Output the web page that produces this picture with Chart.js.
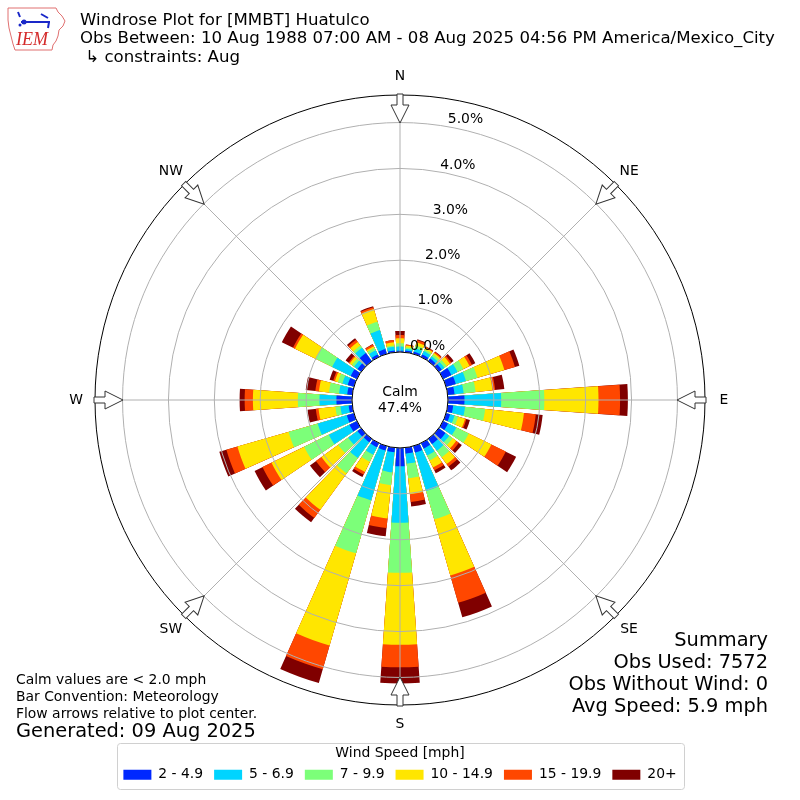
<!DOCTYPE html>
<html>
<head>
<meta charset="utf-8">
<title>Windrose MMBT Huatulco</title>
<script src="https://cdn.jsdelivr.net/npm/chart.js@4.4.1/dist/chart.umd.min.js"></script>
<style>
  html, body { margin: 0; padding: 0; background: #fff; }
</style>
</head>
<body>
<canvas id="rose" width="800" height="800"></canvas>
<script>
// wind directions (degrees, meteorological) and compass labels
const directions = [0, 10, 20, 30, 40, 50, 60, 70, 80, 90, 100, 110, 120, 130, 140, 150, 160, 170,
                    180, 190, 200, 210, 220, 230, 240, 250, 260, 270, 280, 290, 300, 310, 320, 330, 340, 350];
const compassLabels = ['N', 'NE', 'E', 'SE', 'S', 'SW', 'W', 'NW'];

const speedBins = ['2 - 4.9', '5 - 6.9', '7 - 9.9', '10 - 14.9', '15 - 19.9', '20+'];
const speedColors = ['#0028ff', '#00d4ff', '#7cff79', '#ffe600', '#ff4700', '#800000'];

// percent of observations, per direction, per speed bin
const speed2to5 = [0.03, 0.04, 0.05, 0.06, 0.07, 0.08, 0.20, 0.22, 0.15, 0.36, 0.12, 0.09, 0.12, 0.18, 0.14, 0.13, 0.15, 0.13,
                   0.40, 0.10, 0.10, 0.10, 0.09, 0.10, 0.18, 0.16, 0.08, 0.34, 0.11, 0.14, 0.15, 0.10, 0.22, 0.06, 0.11, 0.04];
const speed5to7 = [0.09, 0.04, 0.08, 0.08, 0.06, 0.07, 0.15, 0.23, 0.20, 0.80, 0.26, 0.10, 0.20, 0.10, 0.18, 0.17, 0.87, 0.22,
                   1.23, 0.44, 1.13, 0.18, 0.43, 0.25, 0.50, 0.66, 0.18, 0.37, 0.18, 0.12, 0.45, 0.09, 0.14, 0.10, 0.43, 0.08];
const speed7to10 = [0.07, 0.03, 0.06, 0.04, 0.05, 0.06, 0.14, 0.26, 0.26, 0.94, 0.44, 0.08, 0.30, 0.09, 0.18, 0.12, 0.64, 0.32,
                    1.09, 0.28, 1.20, 0.17, 0.41, 0.27, 0.60, 0.66, 0.11, 0.47, 0.22, 0.10, 0.40, 0.06, 0.06, 0.06, 0.19, 0.03];
const speed10to15 = [0.11, 0.04, 0.07, 0.04, 0.04, 0.09, 0.15, 0.61, 0.37, 1.18, 0.85, 0.16, 0.55, 0.10, 0.18, 0.17, 1.27, 0.35,
                     1.57, 0.73, 2.09, 0.25, 0.98, 0.45, 0.79, 1.16, 0.37, 0.98, 0.22, 0.07, 0.50, 0.06, 0.10, 0.04, 0.29, 0.07];
const speed15to20 = [0.07, 0.02, 0.05, 0.02, 0.03, 0.04, 0.06, 0.24, 0.06, 0.47, 0.26, 0.03, 0.35, 0.07, 0.07, 0.07, 0.62, 0.17,
                     0.49, 0.21, 0.54, 0.06, 0.22, 0.15, 0.22, 0.25, 0.06, 0.18, 0.08, 0.04, 0.05, 0.03, 0.06, 0.04, 0.04, 0.05];
const speed20up = [0.09, 0.00, 0.02, 0.01, 0.01, 0.06, 0.08, 0.10, 0.20, 0.17, 0.15, 0.08, 0.25, 0.08, 0.10, 0.07, 0.33, 0.10,
                   0.35, 0.18, 0.31, 0.06, 0.12, 0.16, 0.19, 0.16, 0.18, 0.11, 0.21, 0.08, 0.27, 0.08, 0.04, 0.01, 0.02, 0.00];

const ringTicks = [0, 1, 2, 3, 4, 5];
const calmPct = 47.4;

const FONT = "'DejaVu Sans', sans-serif";
Chart.defaults.font.family = FONT;
Chart.defaults.color = '#000';

// radial range: negative min leaves room for the calm circle
const rMin = -1.045;
const rMax = 5.6;

// slots: bar 8 deg, gap 2 deg; N bar split in two halves so the dataset can start at 0 deg
const slotDir = [0];
const slotAngle = [4];
for (let d = 1; d < directions.length; d++) {
  slotDir.push(-1); slotAngle.push(2);
  slotDir.push(d); slotAngle.push(8);
}
slotDir.push(-1); slotAngle.push(2);
slotDir.push(0); slotAngle.push(4);

const bins = [speed2to5, speed5to7, speed7to10, speed10to15, speed15to20, speed20up];
// stacked totals, drawn overlapping (smallest on top)
const stacked = bins.map((_, b) => directions.map((_, d) => {
  let sum = 0;
  for (let k = 0; k <= b; k++) sum += bins[k][d];
  return sum;
}));

const datasets = speedBins.map((label, b) => ({
  label: label,
  data: slotDir.map(d => d < 0 ? 0 : stacked[b][d]),
  backgroundColor: ctx => slotDir[ctx.dataIndex] < 0 ? 'rgba(0,0,0,0)' : speedColors[b],
  borderWidth: 0,
  angle: ctx => slotAngle[ctx.dataIndex]
}));

function drawLogo(ctx) {
  ctx.save();
  ctx.strokeStyle = '#e07070';
  ctx.lineWidth = 1;
  const pts = [[8, 8], [56, 8], [58, 12], [62, 16], [65, 21], [63, 26], [59, 30], [58, 36], [56, 41],
               [53, 45], [52, 50], [15, 50], [13, 44], [11, 36], [9, 28], [8, 20]];
  ctx.beginPath();
  pts.forEach((p, i) => i ? ctx.lineTo(p[0], p[1]) : ctx.moveTo(p[0], p[1]));
  ctx.closePath();
  ctx.stroke();
  ctx.strokeStyle = '#1a28c8';
  ctx.fillStyle = '#1a28c8';
  ctx.lineWidth = 2;
  ctx.beginPath();
  ctx.moveTo(21, 22); ctx.lineTo(50, 22);
  ctx.moveTo(18, 12); ctx.lineTo(20, 17);
  ctx.moveTo(41, 14); ctx.lineTo(48, 18);
  ctx.moveTo(49, 22); ctx.lineTo(48, 28);
  ctx.stroke();
  ctx.beginPath(); ctx.arc(24, 22, 2.5, 0, Math.PI * 2); ctx.fill();
  ctx.beginPath(); ctx.arc(20, 25, 1.5, 0, Math.PI * 2); ctx.fill();
  ctx.fillStyle = '#d42a2a';
  ctx.font = 'italic 18px "Liberation Serif", serif';
  ctx.textAlign = 'left';
  ctx.textBaseline = 'alphabetic';
  ctx.fillText('IEM', 16, 45);
  ctx.restore();
}

const decor = {
  id: 'decor',
  afterDraw(chart) {
    const ctx = chart.ctx;
    const s = chart.scales.r;
    const cx = s.xCenter, cy = s.yCenter, R = s.drawingArea;
    const r0 = s.getDistanceFromCenterForValue(0);
    ctx.save();

    // calm circle
    ctx.beginPath();
    ctx.arc(cx, cy, r0, 0, Math.PI * 2);
    ctx.fillStyle = '#fff';
    ctx.fill();
    ctx.lineWidth = 1;
    ctx.strokeStyle = '#000';
    ctx.stroke();
    ctx.fillStyle = '#000';
    ctx.font = '13.9px ' + FONT;
    ctx.textAlign = 'center';
    ctx.textBaseline = 'alphabetic';
    ctx.fillText('Calm', cx, cy - 4);
    ctx.fillText(calmPct.toFixed(1) + '%', cx, cy + 12);

    // ring labels
    const la = 9.5 * Math.PI / 180;
    ctx.textAlign = 'left';
    ringTicks.forEach(v => {
      const r = s.getDistanceFromCenterForValue(v);
      ctx.fillText(v.toFixed(1) + '%', cx + r * Math.sin(la) + 2, cy - r * Math.cos(la) - 3);
    });

    // compass arrows and labels
    compassLabels.forEach((lab, k) => {
      ctx.save();
      ctx.translate(cx, cy);
      ctx.rotate(s.getIndexAngle(k));
      ctx.beginPath();
      ctx.moveTo(-3, -(R + 1));
      ctx.lineTo(3, -(R + 1));
      ctx.lineTo(3, -(R - 10));
      ctx.lineTo(9, -(R - 10));
      ctx.lineTo(0, -(R - 28));
      ctx.lineTo(-9, -(R - 10));
      ctx.lineTo(-3, -(R - 10));
      ctx.closePath();
      ctx.fillStyle = '#fff';
      ctx.fill();
      ctx.strokeStyle = '#333';
      ctx.lineWidth = 1;
      ctx.stroke();
      ctx.restore();
      const p = s.getPointPosition(k, R + 19);
      ctx.fillStyle = '#000';
      ctx.font = '13.9px ' + FONT;
      ctx.textAlign = 'center';
      ctx.textBaseline = 'middle';
      ctx.fillText(lab, p.x, p.y);
    });

    // title block
    drawLogo(ctx);
    ctx.fillStyle = '#000';
    ctx.textAlign = 'left';
    ctx.textBaseline = 'alphabetic';
    ctx.font = '16.6px ' + FONT;
    ctx.fillText('Windrose Plot for [MMBT] Huatulco', 80, 25);
    ctx.fillText('Obs Between: 10 Aug 1988 07:00 AM - 08 Aug 2025 04:56 PM America/Mexico_City', 80, 43);
    ctx.fillText(' \u21b3 constraints: Aug', 80, 61.5);

    // notes
    ctx.font = '13.9px ' + FONT;
    ctx.fillText('Calm values are < 2.0 mph', 16, 684);
    ctx.fillText('Bar Convention: Meteorology', 16, 701);
    ctx.fillText('Flow arrows relative to plot center.', 16, 718);
    ctx.font = '19.4px ' + FONT;
    ctx.fillText('Generated: 09 Aug 2025', 16, 737);

    ctx.textAlign = 'right';
    ctx.fillText('Summary', 768, 646);
    ctx.fillText('Obs Used: 7572', 768, 668);
    ctx.fillText('Obs Without Wind: 0', 768, 690);
    ctx.fillText('Avg Speed: 5.9 mph', 768, 712);

    // legend frame
    const lg = chart.legend;
    const hb = lg.legendHitBoxes;
    if (hb && hb.length) {
      const first = hb[0], last = hb[hb.length - 1];
      const x1 = first.left - 6, x2 = last.left + last.width + 8;
      const y1 = lg.top + 37.2, y2 = first.top + first.height + 6.5;
      ctx.beginPath();
      ctx.roundRect(Math.round(x1) + 0.5, Math.round(y1) + 0.5, Math.round(x2 - x1), Math.round(y2 - y1), 3);
      ctx.strokeStyle = '#d0d0d0';
      ctx.lineWidth = 1;
      ctx.stroke();
    }
    ctx.restore();
  }
};

new Chart(document.getElementById('rose').getContext('2d'), {
  type: 'polarArea',
  data: {
    labels: compassLabels,
    datasets: datasets
  },
  options: {
    responsive: false,
    animation: false,
    events: [],
    layout: { padding: { left: 95, right: 95, top: 95, bottom: 8.4 } },
    scales: {
      r: {
        min: rMin,
        max: rMax,
        startAngle: 0,
        afterBuildTicks: sc => { sc.ticks = [rMin, ...ringTicks, rMax].map(v => ({ value: v })); },
        ticks: { display: false, z: 1 },
        pointLabels: { display: false },
        grid: {
          z: 1,
          lineWidth: 1,
          color: c => {
            const v = c.tick ? c.tick.value : 0;
            if (v === rMax) return '#000';
            if (v < 0) return 'rgba(0,0,0,0)';
            return '#b0b0b0';
          }
        },
        angleLines: { display: true, color: '#b0b0b0', lineWidth: 1 }
      }
    },
    plugins: {
      tooltip: { enabled: false },
      legend: {
        position: 'bottom',
        labels: {
          boxWidth: 28,
          boxHeight: 10,
          padding: 11,
          font: { size: 13.9 },
          color: '#000',
          generateLabels: () => speedBins.map((t, i) => ({
            text: t, fillStyle: speedColors[i], strokeStyle: speedColors[i],
            lineWidth: 0, hidden: false, datasetIndex: i
          }))
        },
        title: {
          display: true,
          text: 'Wind Speed [mph]',
          color: '#000',
          font: { size: 13.9 },
          padding: { top: 41, bottom: -6.3 }
        }
      }
    }
  },
  plugins: [decor]
});
</script>
</body>
</html>
